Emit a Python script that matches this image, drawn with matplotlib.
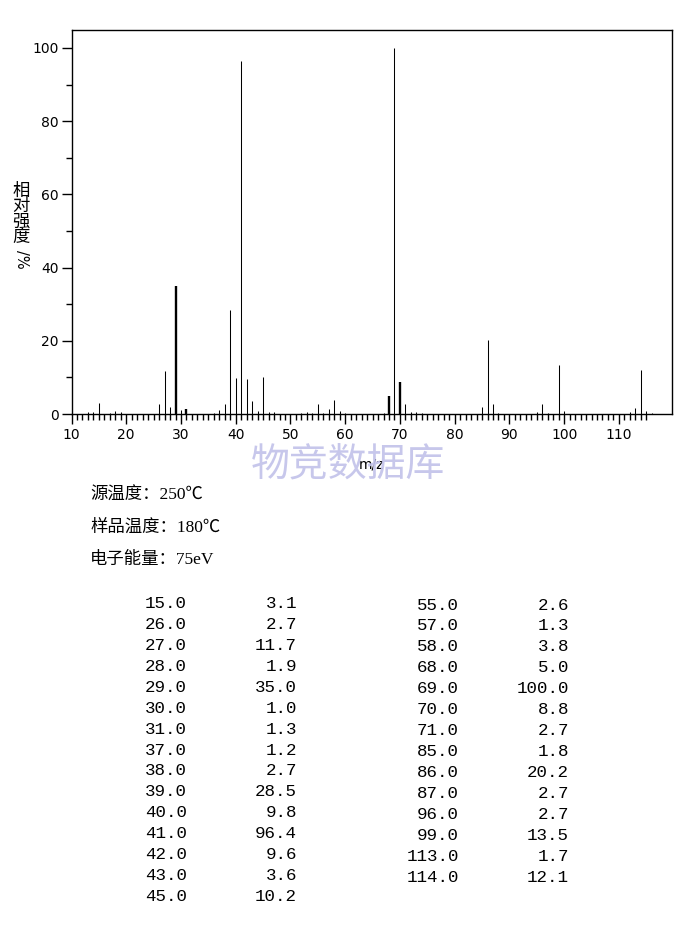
import matplotlib
matplotlib.use("Agg")
import matplotlib.pyplot as plt
import numpy as np
from matplotlib.ticker import MultipleLocator, FixedLocator

# 质谱峰 (m/z, 相对强度%)，小峰为图上估读
mz = [13, 14, 15, 17, 18, 19, 26, 27, 28, 29, 30, 31, 36, 37, 38, 39, 40, 41, 42, 43,
      44, 45, 46, 47, 52, 53, 54, 55, 56, 57, 58, 59, 60, 67, 68, 69, 70, 71, 72, 73,
      74, 85, 86, 87, 88, 95, 96, 97, 99, 100, 112, 113, 114, 115, 116]
intensity = [0.5, 0.6, 3.1, 0.4, 0.8, 0.5, 2.7, 11.7, 1.9, 35.0, 1.0, 1.3, 0.3, 1.2, 2.7,
             28.5, 9.8, 96.4, 9.6, 3.6, 0.8, 10.2, 0.5, 0.5, 0.3, 0.6, 0.4, 2.6, 0.4, 1.3,
             3.8, 0.7, 0.4, 0.3, 5.0, 100.0, 8.8, 2.7, 0.6, 0.6, 0.4, 1.8, 20.2, 2.7, 0.4,
             0.5, 2.7, 0.4, 13.5, 0.7, 0.5, 1.7, 12.1, 0.8, 0.2]

# 表格数据
table_left_mz = [15.0, 26.0, 27.0, 28.0, 29.0, 30.0, 31.0, 37.0, 38.0, 39.0, 40.0, 41.0, 42.0, 43.0, 45.0]
table_left_int = [3.1, 2.7, 11.7, 1.9, 35.0, 1.0, 1.3, 1.2, 2.7, 28.5, 9.8, 96.4, 9.6, 3.6, 10.2]
table_right_mz = [55.0, 57.0, 58.0, 68.0, 69.0, 70.0, 71.0, 85.0, 86.0, 87.0, 96.0, 99.0, 113.0, 114.0]
table_right_int = [2.6, 1.3, 3.8, 5.0, 100.0, 8.8, 2.7, 1.8, 20.2, 2.7, 2.7, 13.5, 1.7, 12.1]

conditions = ["源温度：250℃", "样品温度：180℃", "电子能量：75eV"]

thick_peaks = [29, 31, 68, 70]

W, H = 696, 935
fig = plt.figure(figsize=(W / 100, H / 100), dpi=100)
fig.patch.set_facecolor("white")


def fx(px):
    return px / W


def fy(py):
    return 1 - py / H


ax = fig.add_axes([fx(71.5), fy(414), fx(672) - fx(71.5), fy(30) - fy(414)])

for m, v in zip(mz, intensity):
    lw = 1.7 if m in thick_peaks else 0.75
    ax.vlines(m, 0, v, color="black", lw=lw)

ax.set_xlim(10, 119.7)
ax.set_ylim(0, 104.9)

ax.xaxis.set_major_locator(MultipleLocator(10))
ax.xaxis.set_minor_locator(FixedLocator(np.arange(10, 116)))
ax.yaxis.set_major_locator(MultipleLocator(20))
ax.yaxis.set_minor_locator(FixedLocator([10, 30, 50, 70, 90]))
ax.set_xticks(np.arange(10, 111, 10))

ax.tick_params(axis="both", which="major", length=7, width=1.0, direction="out",
               labelsize=10, colors="black", pad=2)
ax.tick_params(axis="both", which="minor", length=4, width=1.0, direction="out")
ax.tick_params(axis="x", which="major", pad=3)
for s in ax.spines.values():
    s.set_linewidth(1.0)

# x轴标签 m/z (被水印遮挡)
fig.text(fx(372), fy(465), "m/z", ha="center", va="center", fontsize=10, color="black")
fig.text(fx(348), fy(466), "物竞数据库", ha="center", va="center", fontsize=28,
         family=["Noto Sans CJK SC"], color="#c3c3ea", alpha=0.92, zorder=10)

# y轴标签，竖排
fig.text(fx(21), fy(214), "相\n对\n强\n度", ha="center", va="center", fontsize=12.5,
         family=["Noto Sans CJK SC"], linespacing=0.8)
fig.text(fx(21), fy(259), "/%", ha="center", va="center", fontsize=10.5, rotation=270)

# 实验条件
for i, s in enumerate(conditions):
    fig.text(fx(90), fy(496 + 32 * i), s, ha="left", va="center", fontsize=12.5,
             family=["Liberation Serif", "Noto Sans CJK SC"])

# 峰表
row_h = 20.96
for i, (m, v) in enumerate(zip(table_left_mz, table_left_int)):
    y = fy(603.3 + row_h * i)
    fig.text(fx(187), y, f"{m:.1f}", ha="right", va="center", fontsize=12.6, family="Liberation Mono")
    fig.text(fx(297), y, f"{v:.1f}", ha="right", va="center", fontsize=12.6, family="Liberation Mono")
for i, (m, v) in enumerate(zip(table_right_mz, table_right_int)):
    y = fy(605 + row_h * i)
    fig.text(fx(459), y, f"{m:.1f}", ha="right", va="center", fontsize=12.6, family="Liberation Mono")
    fig.text(fx(569), y, f"{v:.1f}", ha="right", va="center", fontsize=12.6, family="Liberation Mono")

fig.savefig("out.png", dpi=100, facecolor="white")
